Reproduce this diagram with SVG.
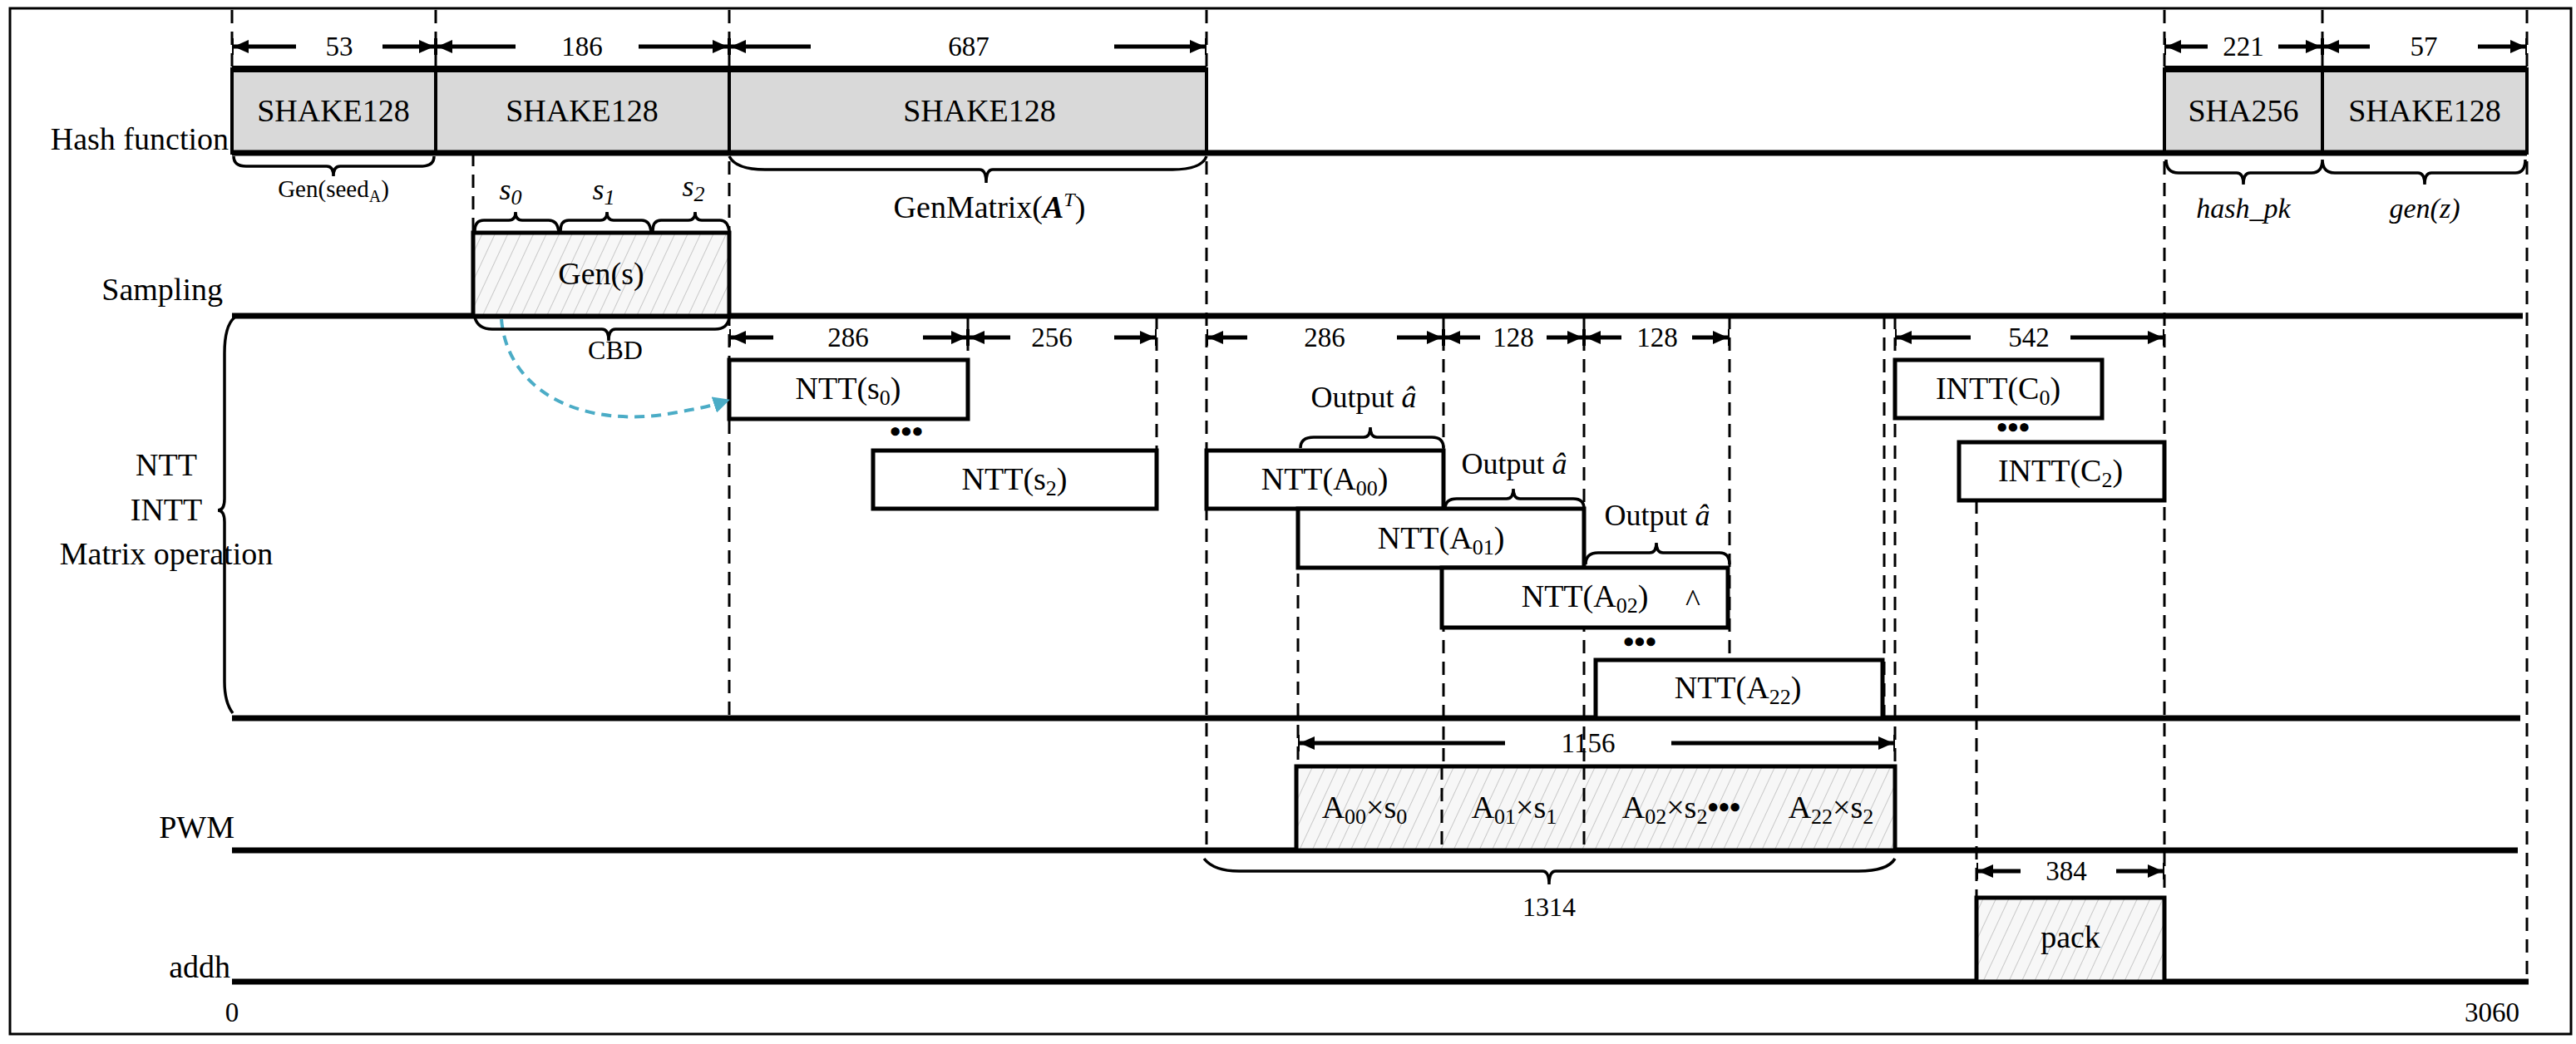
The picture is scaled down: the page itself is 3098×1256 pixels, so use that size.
<svg xmlns="http://www.w3.org/2000/svg" width="3098" height="1256" viewBox="0 0 3098 1256" font-family="'Liberation Serif', 'Times New Roman', serif">
<style>
text{font-family:'Liberation Serif','Times New Roman',serif;fill:#000}
.lbl{font-size:38px}
.bx{font-size:38px;text-anchor:middle}
.dim{font-size:33px;text-anchor:middle}
.it{font-style:italic}
.tl{stroke:#000;stroke-width:7;fill:none}
.dash{stroke:#000;stroke-width:3;stroke-dasharray:16 10;fill:none}
.hash{fill:#d9d9d9;stroke:#000;stroke-width:4}
.box{fill:#fff;stroke:#000;stroke-width:5}
.hat{fill:url(#hatch);stroke:#000;stroke-width:5}
.br{fill:none;stroke:#000;stroke-width:3.5}
.arr{stroke:#000;stroke-width:5;fill:none;marker-start:url(#ah)}
</style>
<defs>
<pattern id="hatch" width="14" height="14" patternUnits="userSpaceOnUse" patternTransform="rotate(25)">
<rect width="14" height="14" fill="#f7f7f7"/>
<line x1="0" y1="0" x2="0" y2="14" stroke="#c8c8c8" stroke-width="2"/>
</pattern>
<marker id="ah" viewBox="0 0 10 10" refX="9" refY="5" markerWidth="4" markerHeight="4" orient="auto-start-reverse" markerUnits="strokeWidth">
<path d="M0,1 L9,5 L0,9 Z" fill="#000"/><rect x="9" y="0" width="1" height="10" fill="#000"/>
</marker>
<marker id="ahc" viewBox="0 0 10 10" refX="8" refY="5" markerWidth="5" markerHeight="5" orient="auto" markerUnits="strokeWidth">
<path d="M0,0 L10,5 L0,10 Z" fill="#4bacc6"/>
</marker>
</defs>
<rect x="12" y="10" width="3080" height="1234" fill="#fff" stroke="#000" stroke-width="3"/>

<g id="row-labels">
<text class="lbl" x="275" y="180" text-anchor="end">Hash function</text>
<text class="lbl" x="268" y="361" text-anchor="end">Sampling</text>
<text class="lbl" x="200" y="572" text-anchor="middle">NTT</text>
<text class="lbl" x="200" y="626" text-anchor="middle">INTT</text>
<text class="lbl" x="200" y="679" text-anchor="middle">Matrix operation</text>
<text class="lbl" x="282" y="1008" text-anchor="end">PWM</text>
<text class="lbl" x="277" y="1176" text-anchor="end">addh</text>
<text class="dim" x="279" y="1229">0</text>
<text class="dim" x="2997" y="1229">3060</text>
</g>

<g id="dashed-lines">
<path class="dash" d="M279 12V83 M524 12V83 M877 12V864 M1451 12V1023 M569 184V280 M1164 380V433 M1391 380V542 M1736 380V1023 M1905 380V1023 M2080 380V794 M1561 612V922 M2266 380V864 M2279 380V922 M2377 602V1080 M2603 12V1080 M2793 12V83 M3039 12V1181"/>
</g>

<g id="hash-boxes">
<g id="h1"><rect class="hash" x="279" y="83" width="245" height="101"/><text class="bx" x="401" y="146">SHAKE128</text></g>
<g id="h2"><rect class="hash" x="524" y="83" width="353" height="101"/><text class="bx" x="700" y="146">SHAKE128</text></g>
<g id="h3"><rect class="hash" x="877" y="83" width="574" height="101"/><text class="bx" x="1178" y="146">SHAKE128</text></g>
<g id="h4"><rect class="hash" x="2603" y="83" width="190" height="101"/><text class="bx" x="2698" y="146">SHA256</text></g>
<g id="h5"><rect class="hash" x="2793" y="83" width="246" height="101"/><text class="bx" x="2916" y="146">SHAKE128</text></g>
<path d="M279 83H1451 M2603 83H3039" stroke="#000" stroke-width="8"/>
</g>

<g id="timelines">
<path class="tl" d="M279 184H3039 M279 380H3034 M279 864H3031 M279 1023H3028 M279 1181H3041"/>
</g>

<g id="gen-s"><rect class="hat" x="569" y="280" width="308" height="100"/><text class="bx" x="723" y="342">Gen(s)</text></g>

<g id="ntt-s0"><rect class="box" x="877" y="433" width="287" height="71"/><text class="bx" x="1020" y="480">NTT(s<tspan font-size="26" dy="7">0</tspan><tspan dy="-7">)</tspan></text></g>
<g id="ntt-s2"><rect class="box" x="1050" y="542" width="341" height="70"/><text class="bx" x="1220" y="589">NTT(s<tspan font-size="26" dy="7">2</tspan><tspan dy="-7">)</tspan></text></g>
<g id="ntt-a00"><rect class="box" x="1451" y="542" width="285" height="70"/><text class="bx" x="1593" y="589">NTT(A<tspan font-size="26" dy="7">00</tspan><tspan dy="-7">)</tspan></text></g>
<g id="ntt-a01"><rect class="box" x="1561" y="612" width="344" height="71"/><text class="bx" x="1733" y="660">NTT(A<tspan font-size="26" dy="7">01</tspan><tspan dy="-7">)</tspan></text></g>
<g id="ntt-a02"><rect class="box" x="1734" y="683" width="344" height="72"/><text class="bx" x="1906" y="730">NTT(A<tspan font-size="26" dy="7">02</tspan><tspan dy="-7">)</tspan></text><text class="bx" x="2036" y="735">^</text></g>
<g id="ntt-a22"><rect class="box" x="1919" y="794" width="345" height="70"/><text class="bx" x="2090" y="840">NTT(A<tspan font-size="26" dy="7">22</tspan><tspan dy="-7">)</tspan></text></g>
<g id="intt-c0"><rect class="box" x="2279" y="433" width="249" height="70"/><text class="bx" x="2403" y="480">INTT(C<tspan font-size="26" dy="7">0</tspan><tspan dy="-7">)</tspan></text></g>
<g id="intt-c2"><rect class="box" x="2356" y="532" width="247" height="70"/><text class="bx" x="2478" y="579">INTT(C<tspan font-size="26" dy="7">2</tspan><tspan dy="-7">)</tspan></text></g>

<g id="pwm"><rect class="hat" x="1559" y="922" width="720" height="101"/>
<path class="dash" d="M1734 922V1023 M1905 922V1023"/>
<text class="bx" x="1641" y="984">A<tspan font-size="26" dy="7">00</tspan><tspan dy="-7">×s</tspan><tspan font-size="26" dy="7">0</tspan></text>
<text class="bx" x="1821" y="984">A<tspan font-size="26" dy="7">01</tspan><tspan dy="-7">×s</tspan><tspan font-size="26" dy="7">1</tspan></text>
<text class="bx" x="2022" y="984">A<tspan font-size="26" dy="7">02</tspan><tspan dy="-7">×s</tspan><tspan font-size="26" dy="7">2</tspan><tspan dy="-7" font-weight="bold">•••</tspan></text>
<text class="bx" x="2202" y="984">A<tspan font-size="26" dy="7">22</tspan><tspan dy="-7">×s</tspan><tspan font-size="26" dy="7">2</tspan></text>
</g>
<g id="pack"><rect class="hat" x="2377" y="1080" width="226" height="101"/><text class="bx" x="2490" y="1140" font-size="30">pack</text></g>

<g id="dots">
<text class="bx" x="1090" y="532" font-weight="bold">•••</text>
<text class="bx" x="2421" y="527" font-weight="bold">•••</text>
<text class="bx" x="1972" y="785" font-weight="bold">•••</text>
</g>

<g id="connectors">
<path class="arr" d="M281 56H356"/><path class="arr" d="M522 56H460"/><text class="dim" x="408" y="67">53</text>
<path class="arr" d="M526 56H620"/><path class="arr" d="M875 56H768"/><text class="dim" x="700" y="67">186</text>
<path class="arr" d="M879 56H975"/><path class="arr" d="M1449 56H1340"/><text class="dim" x="1165" y="67">687</text>
<path class="arr" d="M2605 56H2655"/><path class="arr" d="M2791 56H2740"/><text class="dim" x="2698" y="67">221</text>
<path class="arr" d="M2795 56H2850"/><path class="arr" d="M3037 56H2980"/><text class="dim" x="2915" y="67">57</text>
<path class="arr" d="M879 406H930"/><path class="arr" d="M1162 406H1110"/><text class="dim" x="1020" y="417">286</text>
<path class="arr" d="M1166 406H1215"/><path class="arr" d="M1389 406H1340"/><text class="dim" x="1265" y="417">256</text>
<path class="arr" d="M1453 406H1500"/><path class="arr" d="M1734 406H1680"/><text class="dim" x="1593" y="417">286</text>
<path class="arr" d="M1738 406H1780"/><path class="arr" d="M1903 406H1860"/><text class="dim" x="1820" y="417">128</text>
<path class="arr" d="M1907 406H1950"/><path class="arr" d="M2078 406H2035"/><text class="dim" x="1993" y="417">128</text>
<path class="arr" d="M2281 406H2370"/><path class="arr" d="M2601 406H2490"/><text class="dim" x="2440" y="417">542</text>
<path class="arr" d="M1563 894H1810"/><path class="arr" d="M2277 894H2010"/><text class="dim" x="1910" y="905">1156</text>
<path class="arr" d="M2379 1048H2430"/><path class="arr" d="M2601 1048H2545"/><text class="dim" x="2485" y="1059">384</text>
<path d="M603 384C610 470 700 520 820 495C850 490 865 485 874 482" fill="none" stroke="#4bacc6" stroke-width="4" stroke-dasharray="12 8" marker-end="url(#ahc)"/>
</g>

<g id="braces">
<path class="br" d="M281 188Q281 200 296 200L393 200Q401 200 401 212Q401 200 409 200L506 200Q522 200 522 188"/>
<text x="401" y="237" font-size="29" text-anchor="middle">Gen(seed<tspan font-size="20" dy="6">A</tspan><tspan dy="-6">)</tspan></text>
<path class="br" d="M877 188Q885 204 920 204L1178 204Q1186 204 1186 220Q1186 204 1194 204L1410 204Q1445 204 1451 188"/>
<text x="1190" y="262" font-size="38" text-anchor="middle">GenMatrix(<tspan font-style="italic" font-weight="bold">A</tspan><tspan font-style="italic" font-size="24" dy="-14">T</tspan><tspan dy="14">)</tspan></text>
<path class="br" d="M571 278Q571 265 582 265L612 265Q620 265 620 255Q620 265 628 265L660 265Q670 265 672 278"/>
<path class="br" d="M674 278Q674 265 684 265L722 265Q730 265 730 255Q730 265 738 265L772 265Q781 265 783 278"/>
<path class="br" d="M785 278Q785 265 795 265L828 265Q836 265 836 255Q836 265 844 265L866 265Q875 265 877 278"/>
<text class="it" x="614" y="240" font-size="36" text-anchor="middle">s<tspan font-size="26" dy="6">0</tspan></text>
<text class="it" x="726" y="240" font-size="36" text-anchor="middle">s<tspan font-size="26" dy="6">1</tspan></text>
<text class="it" x="834" y="236" font-size="36" text-anchor="middle">s<tspan font-size="26" dy="6">2</tspan></text>
<path class="br" d="M571 382Q575 396 592 396L724 396Q732 396 732 410Q732 396 740 396L860 396Q875 396 877 382"/>
<text x="740" y="432" font-size="32" text-anchor="middle">CBD</text>
<path class="br" d="M2605 192Q2605 208 2620 208L2690 208Q2698 208 2698 222Q2698 208 2706 208L2780 208Q2793 208 2793 192Q2793 208 2808 208L2908 208Q2916 208 2916 222Q2916 208 2924 208L3025 208Q3037 208 3037 192"/>
<text class="it" x="2698" y="262" font-size="34" text-anchor="middle">hash_pk</text>
<text class="it" x="2916" y="262" font-size="34" text-anchor="middle">gen(z)</text>
<path class="br" d="M1564 539Q1564 526 1580 526L1640 526Q1648 526 1648 514Q1648 526 1656 526L1722 526Q1736 526 1736 539"/>
<text x="1640" y="490" font-size="36" text-anchor="middle">Output <tspan class="it">â</tspan></text>
<path class="br" d="M1738 612Q1738 600 1752 600L1812 600Q1820 600 1820 588Q1820 600 1828 600L1892 600Q1905 600 1905 612"/>
<text x="1821" y="570" font-size="36" text-anchor="middle">Output <tspan class="it">â</tspan></text>
<path class="br" d="M1907 679Q1907 665 1922 665L1984 665Q1992 665 1992 653Q1992 665 2000 665L2068 665Q2080 665 2080 679"/>
<text x="1993" y="632" font-size="36" text-anchor="middle">Output <tspan class="it">â</tspan></text>
<path class="br" d="M1448 1033Q1460 1048 1490 1048L1855 1048Q1863 1048 1863 1064Q1863 1048 1871 1048L2235 1048Q2270 1048 2279 1033"/>
<text x="1863" y="1102" font-size="32" text-anchor="middle">1314</text>
<path class="br" d="M282 382Q270 392 270 425L270 600Q270 614 262 614Q270 614 270 628L270 820Q270 845 280 858"/>
</g>
</svg>
